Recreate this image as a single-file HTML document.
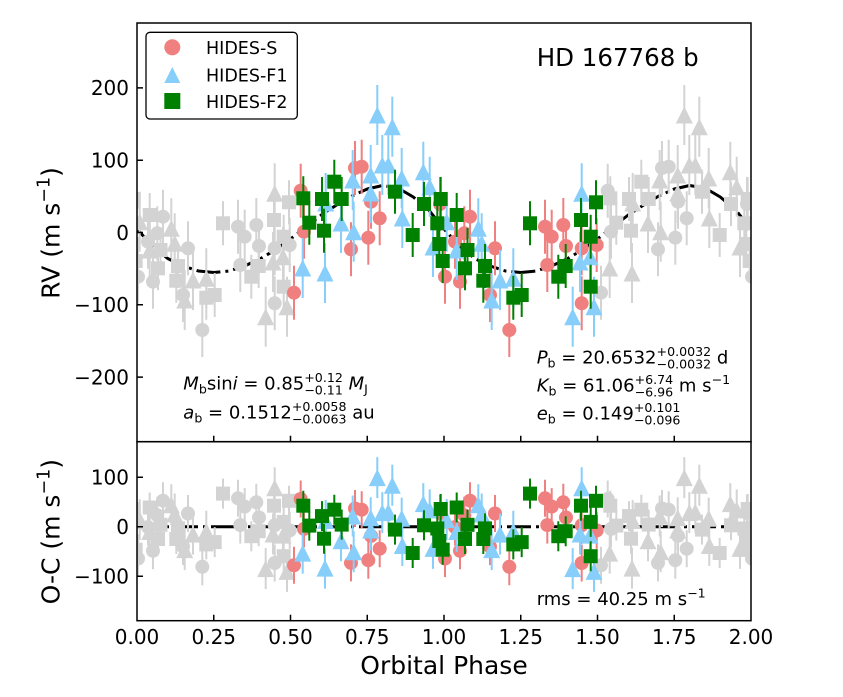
<!DOCTYPE html>
<html><head><meta charset="utf-8"><style>
html,body{margin:0;padding:0;background:#fff;}
svg{display:block;font-family:"DejaVu Sans","Liberation Sans",sans-serif;}
</style></head><body>
<svg width="843" height="697" viewBox="0 0 843 697" xmlns="http://www.w3.org/2000/svg">
<defs>
<clipPath id="cu"><rect x="137" y="23" width="614" height="418.7"/></clipPath>
<clipPath id="cl"><rect x="137" y="441.7" width="614" height="179"/></clipPath>
<circle id="c" r="7"/>
<path id="t" d="M0-8.5L8.5 8.5H-8.5Z"/>
<rect id="s" x="-7" y="-7" width="14" height="14"/>
</defs>
<rect width="843" height="697" fill="#fff"/>

<!-- UPPER PANEL -->
<g clip-path="url(#cu)">
<polyline fill="none" stroke="#000" stroke-width="3" stroke-dasharray="24,5,3,5" stroke-linejoin="round" points="137,229 152.4,246 167.7,258.5 183.1,266 198.4,271 213.8,272.5 229.1,271 244.5,266 259.8,259 275.2,250 290.5,239 305.9,227 321.2,215 336.6,205 351.9,196 367.3,189 382.6,185.5 398,188 413.3,197 428.7,210 444,229 459.4,246 474.7,258.5 490.1,266 505.4,271 520.8,272.5 536.1,271 551.5,266 566.8,259 582.2,250 597.5,239 612.9,227 628.2,215 643.6,205 658.9,196 674.3,189 689.6,185.5 705,188 720.3,197 735.7,210 751,229"/>
<g stroke="#d3d3d3" stroke-width="2" fill="none">
<path d="M133 177v54M138 249.7v54M153 254.7v54M148 214.7v54M163 189.7v54M157.3 206.3v54M188 221.3v54M183 268v54M202.3 303v54M238 199.7v54M244.7 209.7v54M256.3 198v54M259 219v54M240.3 238v54M274.7 221.3v54M289.7 218v54M274.7 276.3v54M607.7 163.7v54M611 204.7v54M601 265.7v54M662 141v54M668.7 139.7v54M678 174.7v54M686.7 191.3v54M658 222.3v54M675.3 210.7v54M747 177v54M752 249.7v54"/>
<path d="M149.7 220v60M139.7 191.7v60M171.3 198.3v60M174.7 213.3v60M193 250v60M206.3 248.3v60M184.7 270v60M274.7 163.3v60M283 226.7v60M265.7 286.7v60M287 276.7v60M273 232v60M684.3 85v60M699.3 96.7v60M659.7 150v60M677.7 145v60M689.3 135v60M695.3 135v60M708.7 148v60M730.3 141.7v60M736.7 156.7v60M677.7 163v60M648 193v60M660.7 201.7v60M709.3 188v60M632 243v60M609.7 238v60M632.7 173v60M740 217v60"/>
<path d="M149.7 193v44M158 246.3v44M160.5 228v44M178 244v44M176.3 258.7v44M206.3 275.7v44M214.7 273v44M223 201.3v44M251.3 254.7v44M258.7 244v44M274 198v44M289 180.3v44M283.7 214.7v44M283.7 264.7v44M610.3 176.3v44M616.3 200.7v44M629 177v44M631 208.7v44M641.3 159.7v44M648.7 177v44M702 169.7v44M719.7 213v44M731 182v44M747.7 177v44M744.3 201.3v44M746.3 222v44M749.7 239v44"/>
</g>
<g fill="#d3d3d3">
<use href="#c" x="133" y="204"/><use href="#c" x="138" y="276.7"/><use href="#c" x="153" y="281.7"/><use href="#c" x="148" y="241.7"/><use href="#c" x="163" y="216.7"/><use href="#c" x="157.3" y="233.3"/><use href="#c" x="188" y="248.3"/><use href="#c" x="183" y="295"/><use href="#c" x="202.3" y="330"/><use href="#c" x="238" y="226.7"/><use href="#c" x="244.7" y="236.7"/><use href="#c" x="256.3" y="225"/><use href="#c" x="259" y="246"/><use href="#c" x="240.3" y="265"/><use href="#c" x="274.7" y="248.3"/><use href="#c" x="289.7" y="245"/><use href="#c" x="274.7" y="303.3"/>
<use href="#c" x="607.7" y="190.7"/><use href="#c" x="611" y="231.7"/><use href="#c" x="601" y="292.7"/><use href="#c" x="662" y="168"/><use href="#c" x="668.7" y="166.7"/><use href="#c" x="678" y="201.7"/><use href="#c" x="686.7" y="218.3"/><use href="#c" x="658" y="249.3"/><use href="#c" x="675.3" y="237.7"/><use href="#c" x="747" y="204"/><use href="#c" x="752" y="276.7"/>
<use href="#t" x="149.7" y="250"/><use href="#t" x="139.7" y="221.7"/><use href="#t" x="171.3" y="228.3"/><use href="#t" x="174.7" y="243.3"/><use href="#t" x="193" y="280"/><use href="#t" x="206.3" y="278.3"/><use href="#t" x="184.7" y="300"/><use href="#t" x="274.7" y="193.3"/><use href="#t" x="283" y="256.7"/><use href="#t" x="265.7" y="316.7"/><use href="#t" x="287" y="306.7"/><use href="#t" x="273" y="262"/>
<use href="#t" x="684.3" y="115"/><use href="#t" x="699.3" y="126.7"/><use href="#t" x="659.7" y="180"/><use href="#t" x="677.7" y="175"/><use href="#t" x="689.3" y="165"/><use href="#t" x="695.3" y="165"/><use href="#t" x="708.7" y="178"/><use href="#t" x="730.3" y="171.7"/><use href="#t" x="736.7" y="186.7"/><use href="#t" x="677.7" y="193"/><use href="#t" x="648" y="223"/><use href="#t" x="660.7" y="231.7"/><use href="#t" x="709.3" y="218"/><use href="#t" x="632" y="273"/><use href="#t" x="609.7" y="268"/><use href="#t" x="632.7" y="203"/><use href="#t" x="740" y="247"/><use href="#t" x="753.7" y="221.7"/>
<use href="#s" x="133.7" y="199"/><use href="#s" x="132.3" y="244"/><use href="#s" x="149.7" y="215"/><use href="#s" x="135.7" y="261"/><use href="#s" x="158" y="268.3"/><use href="#s" x="160.5" y="250"/><use href="#s" x="178" y="266"/><use href="#s" x="176.3" y="280.7"/><use href="#s" x="206.3" y="297.7"/><use href="#s" x="214.7" y="295"/><use href="#s" x="223" y="223.3"/><use href="#s" x="251.3" y="276.7"/><use href="#s" x="258.7" y="266"/><use href="#s" x="274" y="220"/><use href="#s" x="289" y="202.3"/><use href="#s" x="283.7" y="236.7"/><use href="#s" x="283.7" y="286.7"/>
<use href="#s" x="610.3" y="198.3"/><use href="#s" x="616.3" y="222.7"/><use href="#s" x="629" y="199"/><use href="#s" x="631" y="230.7"/><use href="#s" x="641.3" y="181.7"/><use href="#s" x="648.7" y="199"/><use href="#s" x="702" y="191.7"/><use href="#s" x="719.7" y="235"/><use href="#s" x="731" y="204"/><use href="#s" x="747.7" y="199"/><use href="#s" x="744.3" y="223.3"/><use href="#s" x="746.3" y="244"/><use href="#s" x="749.7" y="261"/>
</g>
<!-- red -->
<path stroke="#f08080" stroke-width="2" fill="none" d="M300.7 163.7v54M304 204.7v54M294 265.7v54M355 141v54M361.7 139.7v54M371 174.7v54M379.7 191.3v54M351 222.3v54M368.3 210.7v54M440 177v54M445 249.7v54M460 254.7v54M455 214.7v54M470 189.7v54M464.3 206.3v54M495 221.3v54M490 268v54M509.3 303v54M545 199.7v54M551.7 209.7v54M563.3 198v54M566 219v54M547.3 238v54M581.7 221.3v54M596.7 218v54M581.7 276.3v54"/>
<g fill="#f08080">
<use href="#c" x="300.7" y="190.7"/><use href="#c" x="304" y="231.7"/><use href="#c" x="294" y="292.7"/><use href="#c" x="355" y="168"/><use href="#c" x="361.7" y="166.7"/><use href="#c" x="371" y="201.7"/><use href="#c" x="379.7" y="218.3"/><use href="#c" x="351" y="249.3"/><use href="#c" x="368.3" y="237.7"/><use href="#c" x="440" y="204"/><use href="#c" x="445" y="276.7"/><use href="#c" x="460" y="281.7"/><use href="#c" x="455" y="241.7"/><use href="#c" x="470" y="216.7"/><use href="#c" x="464.3" y="233.3"/><use href="#c" x="495" y="248.3"/><use href="#c" x="490" y="295"/><use href="#c" x="509.3" y="330"/><use href="#c" x="545" y="226.7"/><use href="#c" x="551.7" y="236.7"/><use href="#c" x="563.3" y="225"/><use href="#c" x="566" y="246"/><use href="#c" x="547.3" y="265"/><use href="#c" x="581.7" y="248.3"/><use href="#c" x="596.7" y="245"/><use href="#c" x="581.7" y="303.3"/>
</g>
<!-- blue -->
<path stroke="#87cefa" stroke-width="2" fill="none" d="M377.3 85v60M392.3 96.7v60M352.7 150v60M370.7 145v60M382.3 135v60M388.3 135v60M401.7 148v60M423.3 141.7v60M429.7 156.7v60M370.7 163v60M341 193v60M353.7 201.7v60M402.3 188v60M325 243v60M302.7 238v60M325.7 173v60M433 217v60M456.7 220v60M446.7 191.7v60M478.3 198.3v60M481.7 213.3v60M500 250v60M513.3 248.3v60M491.7 270v60M581.7 163.3v60M590 226.7v60M572.7 286.7v60M594 276.7v60M580 232v60"/>
<g fill="#87cefa">
<use href="#t" x="377.3" y="115"/><use href="#t" x="392.3" y="126.7"/><use href="#t" x="352.7" y="180"/><use href="#t" x="370.7" y="175"/><use href="#t" x="382.3" y="165"/><use href="#t" x="388.3" y="165"/><use href="#t" x="401.7" y="178"/><use href="#t" x="423.3" y="171.7"/><use href="#t" x="429.7" y="186.7"/><use href="#t" x="370.7" y="193"/><use href="#t" x="341" y="223"/><use href="#t" x="353.7" y="231.7"/><use href="#t" x="402.3" y="218"/><use href="#t" x="325" y="273"/><use href="#t" x="302.7" y="268"/><use href="#t" x="325.7" y="203"/><use href="#t" x="433" y="247"/><use href="#t" x="456.7" y="250"/><use href="#t" x="446.7" y="221.7"/><use href="#t" x="478.3" y="228.3"/><use href="#t" x="481.7" y="243.3"/><use href="#t" x="500" y="280"/><use href="#t" x="513.3" y="278.3"/><use href="#t" x="491.7" y="300"/><use href="#t" x="581.7" y="193.3"/><use href="#t" x="590" y="256.7"/><use href="#t" x="572.7" y="316.7"/><use href="#t" x="594" y="306.7"/><use href="#t" x="580" y="262"/>
</g>
<!-- green -->
<path stroke="#008000" stroke-width="2" fill="none" d="M303.3 176.3v44M309.3 200.7v44M322 177v44M324 208.7v44M334.3 159.7v44M341.7 177v44M395 169.7v44M412.7 213v44M424 182v44M440.7 177v44M437.3 201.3v44M439.3 222v44M456.7 193v44M442.7 239v44M465 246.3v44M467.5 228v44M485 244v44M483.3 258.7v44M513.3 275.7v44M521.7 273v44M530 201.3v44M558.3 254.7v44M565.7 244v44M581 198v44M596 180.3v44M590.7 214.7v44M590.7 264.7v44"/>
<g fill="#008000">
<use href="#s" x="303.3" y="198.3"/><use href="#s" x="309.3" y="222.7"/><use href="#s" x="322" y="199"/><use href="#s" x="324" y="230.7"/><use href="#s" x="334.3" y="181.7"/><use href="#s" x="341.7" y="199"/><use href="#s" x="395" y="191.7"/><use href="#s" x="412.7" y="235"/><use href="#s" x="424" y="204"/><use href="#s" x="440.7" y="199"/><use href="#s" x="437.3" y="223.3"/><use href="#s" x="439.3" y="244"/><use href="#s" x="456.7" y="215"/><use href="#s" x="442.7" y="261"/><use href="#s" x="465" y="268.3"/><use href="#s" x="467.5" y="250"/><use href="#s" x="485" y="266"/><use href="#s" x="483.3" y="280.7"/><use href="#s" x="513.3" y="297.7"/><use href="#s" x="521.7" y="295"/><use href="#s" x="530" y="223.3"/><use href="#s" x="558.3" y="276.7"/><use href="#s" x="565.7" y="266"/><use href="#s" x="581" y="220"/><use href="#s" x="596" y="202.3"/><use href="#s" x="590.7" y="236.7"/><use href="#s" x="590.7" y="286.7"/>
</g>
</g>

<!-- LOWER PANEL -->
<g clip-path="url(#cl)">
<line x1="137" y1="526.7" x2="751" y2="526.7" stroke="#000" stroke-width="3" stroke-dasharray="24,5,3,5"/>
<g stroke="#d3d3d3" stroke-width="2" fill="none">
<path d="M133 494.5v37M138 540.1v37M153 532.3v37M148 508.6v37M163 482.2v37M157.3 496.8v37M188 495v37M183 528.1v37M202.3 548.3v37M238 479.8v37M244.7 488.1v37M256.3 483.8v37M259 499v37M240.3 506.6v37M274.7 506.8v37M289.7 511.9v37M274.7 544.5v37M607.7 480.5v37M611 510.4v37M601 546.8v37M662 490v37M668.7 491.2v37M678 517.4v37M686.7 530.2v37M658 544.4v37M675.3 541.7v37M747 494.5v37M752 540.1v37"/>
<path d="M149.7 511v41M139.7 499.1v41M171.3 484.3v41M174.7 493.5v41M193 513.6v41M206.3 510.7v41M184.7 529.1v41M274.7 467.2v41M283 514.6v41M265.7 548.1v41M287 550.9v41M273 513.5v41M684.3 457.1v41M699.3 464.8v41M659.7 495.5v41M677.7 497.2v41M689.3 492.1v41M695.3 491.5v41M708.7 497.8v41M730.3 483.1v41M736.7 489.4v41M677.7 509.5v41M648 520.3v41M660.7 531.2v41M709.3 525v41M632 547.6v41M609.7 532.6v41M632.7 500v41M740 527.9v41"/>
<path d="M149.7 492.5v30M158 524v30M160.5 509.8v30M178 513.4v30M176.3 524v30M206.3 529.4v30M214.7 527.1v30M223 478.6v30M251.3 521.2v30M258.7 516.2v30M274 490.7v30M289 485.8v30M283.7 506.9v30M283.7 541.2v30M610.3 490.7v30M616.3 510.6v30M629 501.1v30M631 523.7v30M641.3 494.7v30M648.7 509.6v30M702 514.6v30M719.7 538v30M731 510.3v30M747.7 494v30M744.3 513.5v30M746.3 526v30M749.7 534.7v30"/>
</g>
<g fill="#d3d3d3">
<use href="#c" x="133" y="513"/><use href="#c" x="138" y="558.6"/><use href="#c" x="153" y="550.8"/><use href="#c" x="148" y="527.1"/><use href="#c" x="163" y="500.7"/><use href="#c" x="157.3" y="515.3"/><use href="#c" x="188" y="513.5"/><use href="#c" x="183" y="546.6"/><use href="#c" x="202.3" y="566.8"/><use href="#c" x="238" y="498.3"/><use href="#c" x="244.7" y="506.6"/><use href="#c" x="256.3" y="502.3"/><use href="#c" x="259" y="517.5"/><use href="#c" x="240.3" y="525.1"/><use href="#c" x="274.7" y="525.3"/><use href="#c" x="289.7" y="530.4"/><use href="#c" x="274.7" y="563"/>
<use href="#c" x="607.7" y="499"/><use href="#c" x="611" y="528.9"/><use href="#c" x="601" y="565.3"/><use href="#c" x="662" y="508.5"/><use href="#c" x="668.7" y="509.7"/><use href="#c" x="678" y="535.9"/><use href="#c" x="686.7" y="548.7"/><use href="#c" x="658" y="562.9"/><use href="#c" x="675.3" y="560.2"/><use href="#c" x="747" y="513"/><use href="#c" x="752" y="558.6"/>
<use href="#t" x="149.7" y="531.5"/><use href="#t" x="139.7" y="519.6"/><use href="#t" x="171.3" y="504.8"/><use href="#t" x="174.7" y="514"/><use href="#t" x="193" y="534.1"/><use href="#t" x="206.3" y="531.2"/><use href="#t" x="184.7" y="549.6"/><use href="#t" x="274.7" y="487.7"/><use href="#t" x="283" y="535.1"/><use href="#t" x="265.7" y="568.6"/><use href="#t" x="287" y="571.4"/><use href="#t" x="273" y="534"/>
<use href="#t" x="684.3" y="477.6"/><use href="#t" x="699.3" y="485.3"/><use href="#t" x="659.7" y="516"/><use href="#t" x="677.7" y="517.7"/><use href="#t" x="689.3" y="512.6"/><use href="#t" x="695.3" y="512"/><use href="#t" x="708.7" y="518.3"/><use href="#t" x="730.3" y="503.6"/><use href="#t" x="736.7" y="509.9"/><use href="#t" x="677.7" y="530"/><use href="#t" x="648" y="540.8"/><use href="#t" x="660.7" y="551.7"/><use href="#t" x="709.3" y="545.5"/><use href="#t" x="632" y="568.1"/><use href="#t" x="609.7" y="553.1"/><use href="#t" x="632.7" y="520.5"/><use href="#t" x="740" y="548.4"/><use href="#t" x="753.7" y="519.6"/>
<use href="#s" x="133.7" y="509"/><use href="#s" x="132.3" y="541"/><use href="#s" x="149.7" y="507.5"/><use href="#s" x="135.7" y="549.7"/><use href="#s" x="158" y="539"/><use href="#s" x="160.5" y="524.8"/><use href="#s" x="178" y="528.4"/><use href="#s" x="176.3" y="539"/><use href="#s" x="206.3" y="544.4"/><use href="#s" x="214.7" y="542.1"/><use href="#s" x="223" y="493.6"/><use href="#s" x="251.3" y="536.2"/><use href="#s" x="258.7" y="531.2"/><use href="#s" x="274" y="505.7"/><use href="#s" x="289" y="500.8"/><use href="#s" x="283.7" y="521.9"/><use href="#s" x="283.7" y="556.2"/>
<use href="#s" x="610.3" y="505.7"/><use href="#s" x="616.3" y="525.6"/><use href="#s" x="629" y="516.1"/><use href="#s" x="631" y="538.7"/><use href="#s" x="641.3" y="509.7"/><use href="#s" x="648.7" y="524.6"/><use href="#s" x="702" y="529.6"/><use href="#s" x="719.7" y="553"/><use href="#s" x="731" y="525.3"/><use href="#s" x="747.7" y="509"/><use href="#s" x="744.3" y="528.5"/><use href="#s" x="746.3" y="541"/><use href="#s" x="749.7" y="549.7"/>
</g>
<path stroke="#f08080" stroke-width="2" fill="none" d="M300.7 480.5v37M304 510.4v37M294 546.8v37M355 490v37M361.7 491.2v37M371 517.4v37M379.7 530.2v37M351 544.4v37M368.3 541.7v37M440 494.5v37M445 540.1v37M460 532.3v37M455 508.6v37M470 482.2v37M464.3 496.8v37M495 495v37M490 528.1v37M509.3 548.3v37M545 479.8v37M551.7 488.1v37M563.3 483.8v37M566 499v37M547.3 506.6v37M581.7 506.8v37M596.7 511.9v37M581.7 544.5v37"/>
<g fill="#f08080">
<use href="#c" x="300.7" y="499"/><use href="#c" x="304" y="528.9"/><use href="#c" x="294" y="565.3"/><use href="#c" x="355" y="508.5"/><use href="#c" x="361.7" y="509.7"/><use href="#c" x="371" y="535.9"/><use href="#c" x="379.7" y="548.7"/><use href="#c" x="351" y="562.9"/><use href="#c" x="368.3" y="560.2"/><use href="#c" x="440" y="513"/><use href="#c" x="445" y="558.6"/><use href="#c" x="460" y="550.8"/><use href="#c" x="455" y="527.1"/><use href="#c" x="470" y="500.7"/><use href="#c" x="464.3" y="515.3"/><use href="#c" x="495" y="513.5"/><use href="#c" x="490" y="546.6"/><use href="#c" x="509.3" y="566.8"/><use href="#c" x="545" y="498.3"/><use href="#c" x="551.7" y="506.6"/><use href="#c" x="563.3" y="502.3"/><use href="#c" x="566" y="517.5"/><use href="#c" x="547.3" y="525.1"/><use href="#c" x="581.7" y="525.3"/><use href="#c" x="596.7" y="530.4"/><use href="#c" x="581.7" y="563"/>
</g>
<path stroke="#87cefa" stroke-width="2" fill="none" d="M377.3 457.1v41M392.3 464.8v41M352.7 495.5v41M370.7 497.2v41M382.3 492.1v41M388.3 491.5v41M401.7 497.8v41M423.3 483.1v41M429.7 489.4v41M370.7 509.5v41M341 520.3v41M353.7 531.2v41M402.3 525v41M325 547.6v41M302.7 532.6v41M325.7 500v41M433 527.9v41M456.7 511v41M446.7 499.1v41M478.3 484.3v41M481.7 493.5v41M500 513.6v41M513.3 510.7v41M491.7 529.1v41M581.7 467.2v41M590 514.6v41M572.7 548.1v41M594 550.9v41M580 513.5v41"/>
<g fill="#87cefa">
<use href="#t" x="377.3" y="477.6"/><use href="#t" x="392.3" y="485.3"/><use href="#t" x="352.7" y="516"/><use href="#t" x="370.7" y="517.7"/><use href="#t" x="382.3" y="512.6"/><use href="#t" x="388.3" y="512"/><use href="#t" x="401.7" y="518.3"/><use href="#t" x="423.3" y="503.6"/><use href="#t" x="429.7" y="509.9"/><use href="#t" x="370.7" y="530"/><use href="#t" x="341" y="540.8"/><use href="#t" x="353.7" y="551.7"/><use href="#t" x="402.3" y="545.5"/><use href="#t" x="325" y="568.1"/><use href="#t" x="302.7" y="553.1"/><use href="#t" x="325.7" y="520.5"/><use href="#t" x="433" y="548.4"/><use href="#t" x="456.7" y="531.5"/><use href="#t" x="446.7" y="519.6"/><use href="#t" x="478.3" y="504.8"/><use href="#t" x="481.7" y="514"/><use href="#t" x="500" y="534.1"/><use href="#t" x="513.3" y="531.2"/><use href="#t" x="491.7" y="549.6"/><use href="#t" x="581.7" y="487.7"/><use href="#t" x="590" y="535.1"/><use href="#t" x="572.7" y="568.6"/><use href="#t" x="594" y="571.4"/><use href="#t" x="580" y="534"/>
</g>
<path stroke="#008000" stroke-width="2" fill="none" d="M303.3 490.7v30M309.3 510.6v30M322 501.1v30M324 523.7v30M334.3 494.7v30M341.7 509.6v30M395 514.6v30M412.7 538v30M424 510.3v30M440.7 494v30M437.3 513.5v30M439.3 526v30M456.7 492.5v30M442.7 534.7v30M465 524v30M467.5 509.8v30M485 513.4v30M483.3 524v30M513.3 529.4v30M521.7 527.1v30M530 478.6v30M558.3 521.2v30M565.7 516.2v30M581 490.7v30M596 485.8v30M590.7 506.9v30M590.7 541.2v30"/>
<g fill="#008000">
<use href="#s" x="303.3" y="505.7"/><use href="#s" x="309.3" y="525.6"/><use href="#s" x="322" y="516.1"/><use href="#s" x="324" y="538.7"/><use href="#s" x="334.3" y="509.7"/><use href="#s" x="341.7" y="524.6"/><use href="#s" x="395" y="529.6"/><use href="#s" x="412.7" y="553"/><use href="#s" x="424" y="525.3"/><use href="#s" x="440.7" y="509"/><use href="#s" x="437.3" y="528.5"/><use href="#s" x="439.3" y="541"/><use href="#s" x="456.7" y="507.5"/><use href="#s" x="442.7" y="549.7"/><use href="#s" x="465" y="539"/><use href="#s" x="467.5" y="524.8"/><use href="#s" x="485" y="528.4"/><use href="#s" x="483.3" y="539"/><use href="#s" x="513.3" y="544.4"/><use href="#s" x="521.7" y="542.1"/><use href="#s" x="530" y="493.6"/><use href="#s" x="558.3" y="536.2"/><use href="#s" x="565.7" y="531.2"/><use href="#s" x="581" y="505.7"/><use href="#s" x="596" y="500.8"/><use href="#s" x="590.7" y="521.9"/><use href="#s" x="590.7" y="556.2"/>
</g>
</g>

<!-- AXES FRAMES -->
<g fill="none" stroke="#000" stroke-width="1.5">
<rect x="137" y="23" width="614" height="418.7"/>
<rect x="137" y="441.7" width="614" height="179"/>
<path d="M137 87.9h6M137 160.2h6M137 232.5h6M137 304.8h6M137 377.1h6M137 477.2h6M137 526.7h6M137 576.2h6"/>
<path d="M213.75 441.7v-6M290.5 441.7v-6M367.25 441.7v-6M444 441.7v-6M520.75 441.7v-6M597.5 441.7v-6M674.25 441.7v-6"/>
<path d="M213.75 620.7v-6M290.5 620.7v-6M367.25 620.7v-6M444 620.7v-6M520.75 620.7v-6M597.5 620.7v-6M674.25 620.7v-6"/>
</g>

<!-- TICK LABELS -->
<g font-size="20" fill="#000" text-anchor="end">
<text x="129" y="95.2">200</text>
<text x="129" y="167.5">100</text>
<text x="129" y="239.8">0</text>
<text x="129" y="312.1">−100</text>
<text x="129" y="384.4">−200</text>
<text x="129" y="484.5">100</text>
<text x="129" y="534">0</text>
<text x="129" y="583.5">−100</text>
</g>
<g font-size="20" fill="#000" text-anchor="middle">
<text x="137" y="644">0.00</text>
<text x="213.75" y="644">0.25</text>
<text x="290.5" y="644">0.50</text>
<text x="367.25" y="644">0.75</text>
<text x="444" y="644">1.00</text>
<text x="520.75" y="644">1.25</text>
<text x="597.5" y="644">1.50</text>
<text x="674.25" y="644">1.75</text>
<text x="751" y="644">2.00</text>
</g>
<text x="444" y="674" font-size="25" text-anchor="middle">Orbital Phase</text>
<text transform="translate(59.5,233) rotate(-90)" font-size="25" text-anchor="middle">RV (m s<tspan font-size="17.5" dy="-10">−1</tspan><tspan dy="10">)</tspan></text>
<text transform="translate(59.5,531.7) rotate(-90)" font-size="25" text-anchor="middle">O-C (m s<tspan font-size="17.5" dy="-10">−1</tspan><tspan dy="10">)</tspan></text>

<!-- TITLE -->
<text x="536.7" y="66" font-size="24.5">HD 167768 b</text>

<!-- ANNOTATIONS -->
<g font-size="18" fill="#000">
<text x="183.3" y="389.3"><tspan font-style="italic">M</tspan><tspan font-size="12.6" dy="4">b</tspan><tspan dy="-4">sin</tspan><tspan font-style="italic">i</tspan> = 0.85<tspan font-size="12.6" dy="-7.5">+0.12</tspan><tspan font-size="12.6" dx="-38.6" dy="12.5">−0.11</tspan><tspan dy="-5"> </tspan><tspan font-style="italic">M</tspan><tspan font-size="12.6" dy="4">J</tspan></text>
<text x="183.3" y="418.3"><tspan font-style="italic">a</tspan><tspan font-size="12.6" dy="4">b</tspan><tspan dy="-4"> = 0.1512</tspan><tspan font-size="12.6" dy="-7.5">+0.0058</tspan><tspan font-size="12.6" dx="-54.6" dy="12.5">−0.0063</tspan><tspan dy="-5"> au</tspan></text>
<text x="536.7" y="363.3"><tspan font-style="italic">P</tspan><tspan font-size="12.6" dy="4">b</tspan><tspan dy="-4"> = 20.6532</tspan><tspan font-size="12.6" dy="-7.5">+0.0032</tspan><tspan font-size="12.6" dx="-54.6" dy="12.5">−0.0032</tspan><tspan dy="-5"> d</tspan></text>
<text x="536.7" y="391.7"><tspan font-style="italic">K</tspan><tspan font-size="12.6" dy="4">b</tspan><tspan dy="-4"> = 61.06</tspan><tspan font-size="12.6" dy="-7.5">+6.74</tspan><tspan font-size="12.6" dx="-38.6" dy="12.5">−6.96</tspan><tspan dy="-5"> m s</tspan><tspan font-size="12.6" dy="-7.5">−1</tspan></text>
<text x="536.7" y="419.3"><tspan font-style="italic">e</tspan><tspan font-size="12.6" dy="4">b</tspan><tspan dy="-4"> = 0.149</tspan><tspan font-size="12.6" dy="-7.5">+0.101</tspan><tspan font-size="12.6" dx="-46.6" dy="12.5">−0.096</tspan></text>
<text x="536.7" y="605">rms = 40.25 m s<tspan font-size="12.6" dy="-7.5">−1</tspan></text>
</g>

<!-- LEGEND -->
<rect x="146" y="32.3" width="151.3" height="86.7" rx="4" ry="4" fill="#fff" stroke="#000" stroke-width="1.3"/>
<circle cx="172.3" cy="47.3" r="8" fill="#f08080"/>
<path d="M172.3 67L180.3 83H164.3Z" fill="#87cefa"/>
<rect x="164.3" y="93" width="16" height="16" fill="#008000"/>
<g font-size="17.5" fill="#000">
<text x="206" y="54">HIDES-S</text>
<text x="206" y="81.5">HIDES-F1</text>
<text x="206" y="108">HIDES-F2</text>
</g>
</svg>
</body></html>
